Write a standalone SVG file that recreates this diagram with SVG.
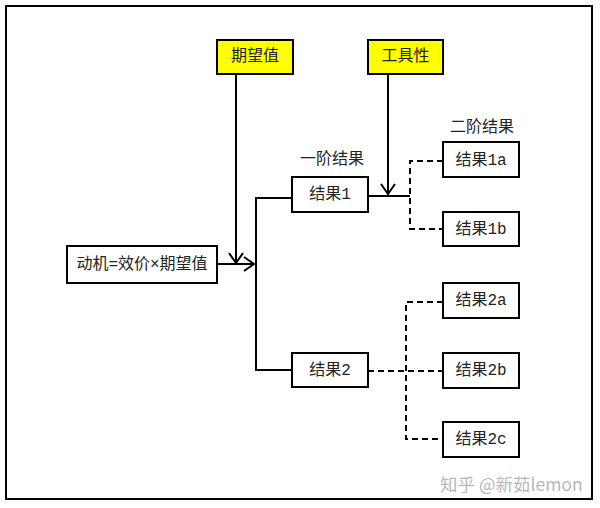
<svg xmlns="http://www.w3.org/2000/svg" width="600" height="508" viewBox="0 0 600 508">
<style>
.box{fill:#fff;stroke:#000;stroke-width:2}
.yel{fill:#ffff00;stroke:#000;stroke-width:2}
.t{font-family:"Liberation Mono","Noto Sans CJK SC",monospace;font-size:16px;fill:#222;text-anchor:middle;dominant-baseline:central}
.ln{fill:none;stroke:#000;stroke-width:2}
.dash{fill:none;stroke:#000;stroke-width:2;stroke-dasharray:6 4}
.wm{font-family:"Noto Sans CJK SC","Liberation Sans",sans-serif;font-size:17.5px;fill:#b8b8b8}
</style>
<defs>
<marker id="arr" markerUnits="userSpaceOnUse" markerWidth="14" markerHeight="18" refX="11" refY="8" orient="auto">
<path d="M1,1 L11,8 L1,15" fill="none" stroke="#000" stroke-width="2"/>
</marker>
</defs>
<rect x="6" y="6" width="586" height="493" fill="#fff" stroke="#000" stroke-width="2"/>
<g id="connectors">
<line class="ln" x1="236" y1="74" x2="236" y2="263" marker-end="url(#arr)"/>
<line class="ln" x1="217" y1="264" x2="254" y2="264" marker-end="url(#arr)"/>
<polyline class="ln" points="292,198 256,198 256,370 292,370"/>
<line class="ln" x1="388" y1="74" x2="388" y2="194" marker-end="url(#arr)"/>
<line class="ln" x1="368" y1="196" x2="410" y2="196"/>
<polyline class="dash" points="443,161 410,161 410,229 443,229"/>
<line class="dash" x1="368" y1="371" x2="443" y2="371"/>
<polyline class="dash" points="443,302 406,302 406,439 443,439"/>
</g>
<g id="n_qiwang"><rect class="yel" x="217" y="40" width="76" height="34"/><text class="t" x="255" y="57">期望值</text></g>
<g id="n_gongju"><rect class="yel" x="368" y="40" width="75" height="34"/><text class="t" x="405.5" y="57">工具性</text></g>
<g id="n_dongji"><rect class="box" x="67" y="246" width="150" height="37"/><text class="t" x="142" y="265">动机=效价×期望值</text></g>
<g id="lbl1"><text class="t" x="332" y="160">一阶结果</text></g>
<g id="lbl2"><text class="t" x="482" y="128">二阶结果</text></g>
<g id="n_r1"><rect class="box" x="292" y="177" width="76" height="35"/><text class="t" x="330" y="195">结果1</text></g>
<g id="n_r2"><rect class="box" x="292" y="353" width="76" height="34"/><text class="t" x="330" y="371">结果2</text></g>
<g id="n_r1a"><rect class="box" x="443" y="142" width="76" height="35"/><text class="t" x="481" y="161">结果1a</text></g>
<g id="n_r1b"><rect class="box" x="443" y="212" width="76" height="34"/><text class="t" x="481" y="230">结果1b</text></g>
<g id="n_r2a"><rect class="box" x="443" y="283" width="76" height="35"/><text class="t" x="481" y="301">结果2a</text></g>
<g id="n_r2b"><rect class="box" x="443" y="353" width="76" height="35"/><text class="t" x="481" y="371">结果2b</text></g>
<g id="n_r2c"><rect class="box" x="443" y="422" width="76" height="35"/><text class="t" x="481" y="440">结果2c</text></g>
<text class="wm" x="440" y="491">知乎 @新茹lemon</text>
</svg>
